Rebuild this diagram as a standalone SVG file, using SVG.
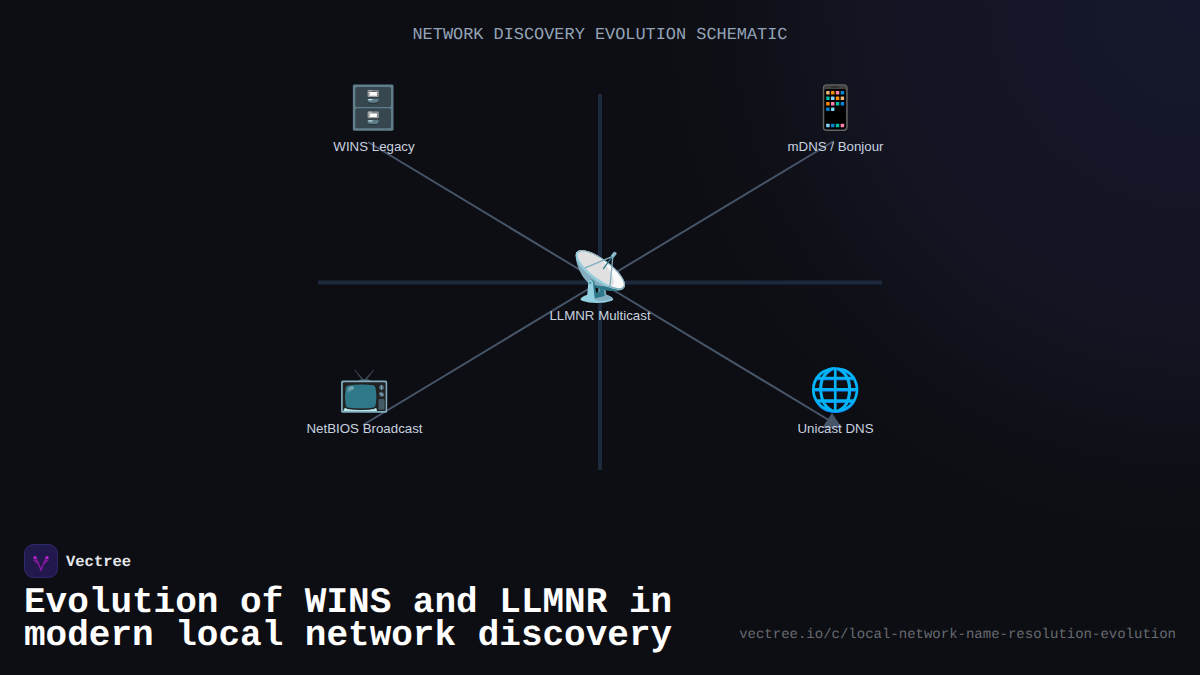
<svg xmlns="http://www.w3.org/2000/svg" width="1200" height="675" viewBox="0 0 1200 675">
<style>
.lbl{font-family:"Liberation Sans",Arial,sans-serif;font-size:13.3px;fill:#cbd5e1;text-anchor:middle;opacity:.99}
.emo{font-family:"Noto Color Emoji","Noto Sans",sans-serif;font-size:42px;text-anchor:middle}
.big{font-size:48px}
.mono{font-family:"Liberation Mono",monospace;text-rendering:geometricPrecision}
.axis{stroke:#1c293c;stroke-width:4;fill:none}
.link{stroke:#475569;stroke-width:2;fill:none}
</style>
<defs>
<radialGradient id="glow" gradientUnits="userSpaceOnUse" cx="1200" cy="0" r="600"><stop offset="0" stop-color="#15172c"/><stop offset="0.55" stop-color="#131523"/><stop offset="1" stop-color="#0d0e13" stop-opacity="0"/></radialGradient>
<linearGradient id="logo" x1="0" y1="0" x2="1" y2="1"><stop offset="0" stop-color="#1e1b4b"/><stop offset="1" stop-color="#25164f"/></linearGradient>
</defs>
<rect width="1200" height="675" fill="#0d0e13"/>
<rect width="1200" height="675" fill="url(#glow)"/>
<text class="mono" x="600" y="38.500" font-size="16.900" fill="#94a3b8" text-anchor="middle">NETWORK DISCOVERY EVOLUTION SCHEMATIC</text>
<g id="connectors">
<line class="axis" x1="318" y1="282.500" x2="882" y2="282.500"/>
<line class="axis" x1="600" y1="94" x2="600" y2="470"/>
<line class="link" x1="600" y1="282" x2="368" y2="142"/>
<line class="link" x1="600" y1="282" x2="834" y2="141"/>
<line class="link" x1="600" y1="282" x2="363" y2="425"/>
<line class="link" x1="600" y1="282" x2="832" y2="422"/>
<polygon points="832,413 842,428 822,428" fill="#475569"/>
</g>
<g id="node-wins"><text class="emo" x="373.500" y="121.500">🗄️</text><text class="lbl" x="374" y="151">WINS Legacy</text></g>
<g id="node-mdns"><text class="emo" x="835.500" y="121.500">📱</text><text class="lbl" x="835.500" y="151">mDNS / Bonjour</text></g>
<g id="node-llmnr"><text class="emo big" x="600" y="292.500">📡</text><text class="lbl" x="600" y="320">LLMNR Multicast</text></g>
<g id="node-netbios"><text class="emo" x="364.500" y="403.500">📺</text><text class="lbl" x="364.500" y="433">NetBIOS Broadcast</text></g>
<g id="node-dns"><text class="emo" x="835.500" y="403.500">🌐</text><text class="lbl" x="835.500" y="433">Unicast DNS</text></g>
<g id="brand">
<rect x="24.500" y="544.500" width="33" height="33" rx="9" fill="url(#logo)" stroke="#2e2a6e"/>
<path d="M36 558 L41 570 L46 558 M33.500 559.500 L38 563.500 M48.500 559.500 L44 563.500" fill="none" stroke="#86199b" stroke-width="1.500"/>
<circle cx="35" cy="557.500" r="1.600" fill="#c026d3"/><circle cx="47" cy="557.500" r="1.600" fill="#c026d3"/>
<text class="mono" x="66" y="566" font-size="15.500" font-weight="700" fill="#e5e7eb">Vectree</text>
</g>
<text class="mono" font-size="36" font-weight="700" fill="#fff"><tspan x="24" y="612">Evolution of WINS and LLMNR in</tspan><tspan x="24" y="645">modern local network discovery</tspan></text>
<text class="mono" x="1176" y="638" font-size="14" fill="#666a70" text-anchor="end">vectree.io/c/local-network-name-resolution-evolution</text>
</svg>
